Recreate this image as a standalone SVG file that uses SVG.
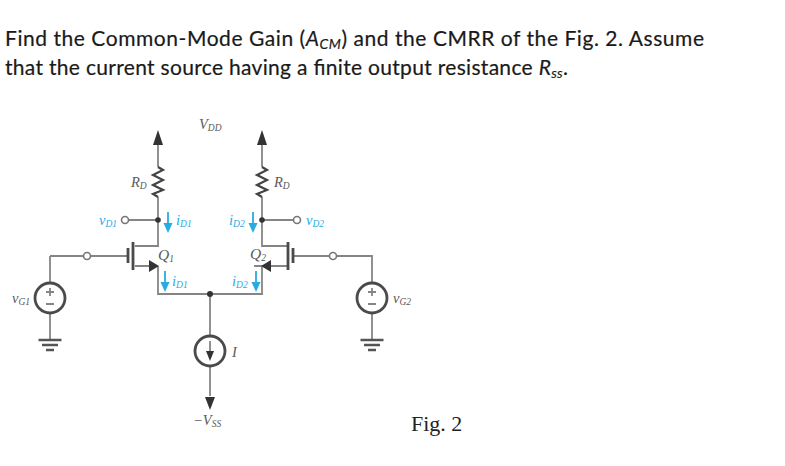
<svg xmlns="http://www.w3.org/2000/svg" width="785" height="466" viewBox="0 0 785 466">
<style>
.t{font-family:"Lato","Open Sans",sans-serif;font-size:21px;fill:#1a1a1a;stroke:#1a1a1a;stroke-width:.2}
.w{fill:none;stroke:#858585;stroke-width:1.8}
.d{fill:none;stroke:#444;stroke-width:2.200}
.s{fill:none;stroke:#4a4a4a;stroke-width:2.800}
.p{fill:#fff;stroke:#777;stroke-width:1.600}
.k{fill:#333}
.c{fill:#29abe2}
.l{font-family:"Liberation Serif",serif;font-style:italic;font-size:14.500px;fill:#5a5a5a}
.b{font-family:"Liberation Serif",serif;font-style:italic;font-size:14.500px;fill:#29abe2}
.q{font-size:15.500px}
.sub{font-size:9.500px}
.g{stroke:#555;fill:none;stroke-width:2.400}
</style>
<defs>
<g id="gnd"><path class="g" d="M-11.500 0H11.500M-8 5H8M-4 10H4"/></g>
<path id="up" class="k" d="M0 0L-5 15H5Z"/>
<path id="cur" class="c" d="M0 0L-4.500 -10H-0.900V-21H0.900V-10H4.500Z"/>
</defs>

<g id="title">
<text class="t" x="5" y="46" textLength="699" lengthAdjust="spacing">Find the Common-Mode Gain (<tspan font-style="italic">A<tspan font-size="14" dy="3">CM</tspan></tspan><tspan dy="-3">) and the CMRR of the Fig. 2. Assume</tspan></text>
<text class="t" x="5" y="75" textLength="563" lengthAdjust="spacing">that the current source having a finite output resistance <tspan font-style="italic">R<tspan font-size="14" dy="3">ss</tspan></tspan><tspan dy="-3">.</tspan></text>
</g>

<g id="connectors">
<path class="w" d="M158 143V167M158 197V246H135M135 266H150M158 266V294H262V266M254 266H289M289 246H262V197M262 167V143"/>
<path class="w" d="M129 220H158M262 220H293M91 256H128M50 256H83M50 256V283M50 313V340"/>
<path class="w" d="M293 256H329M337 256H372V283M372 313V340"/>
<path class="w" d="M210 294V336M210 366V396"/>
</g>

<g id="vdd-left"><use href="#up" x="158" y="130"/></g>
<g id="vdd-right"><use href="#up" x="262" y="130"/></g>
<g id="vdd-label"><text class="l" x="199" y="129">V<tspan class="sub" dy="2">DD</tspan></text></g>

<g id="rd1">
<path class="d" d="M158 167L163 170L153 175L163 180L153 185L163 190L153 194L158 197"/>
<text class="l" x="131" y="187">R<tspan class="sub" dy="2">D</tspan></text>
</g>
<g id="rd2">
<path class="d" d="M262 167L267 170L257 175L267 180L257 185L267 190L257 194L262 197"/>
<text class="l" x="274" y="187">R<tspan class="sub" dy="2">D</tspan></text>
</g>

<g id="vd1">
<circle class="p" cx="125" cy="220" r="3.500"/>
<circle class="k" cx="158" cy="220" r="2.800"/>
<text class="b" x="99" y="225">v<tspan class="sub" dy="2">D1</tspan></text>
</g>
<g id="vd2">
<circle class="p" cx="297" cy="220" r="3.500"/>
<circle class="k" cx="262" cy="220" r="2.800"/>
<text class="b" x="306" y="225">v<tspan class="sub" dy="2">D2</tspan></text>
</g>

<g id="id1-top"><use href="#cur" x="168" y="233"/><text class="b" x="176" y="225">i<tspan class="sub" dy="2">D1</tspan></text></g>
<g id="id2-top"><use href="#cur" x="253" y="233"/><text class="b" x="229" y="225">i<tspan class="sub" dy="2">D2</tspan></text></g>
<g id="id1-bot"><use href="#cur" x="165" y="292"/><text class="b" x="172" y="286">i<tspan class="sub" dy="2">D1</tspan></text></g>
<g id="id2-bot"><use href="#cur" x="256" y="292"/><text class="b" x="232" y="286">i<tspan class="sub" dy="2">D2</tspan></text></g>

<g id="q1">
<path class="s" d="M128 248V263M133 242V270"/>
<path class="k" d="M159 266L149 260V272Z"/>
<text class="l q" x="158" y="260">Q<tspan class="sub" dy="2">1</tspan></text>
</g>
<g id="q2">
<path class="s" d="M293 248V263M288 242V270"/>
<path class="k" d="M261 266L271 260V272Z"/>
<text class="l q" x="250" y="259">Q<tspan class="sub" dy="2">2</tspan></text>
</g>

<g id="vg1-in"><circle class="p" cx="87" cy="256" r="3.500"/></g>
<g id="vg2-in"><circle class="p" cx="333" cy="256" r="3.500"/></g>

<g id="vg1">
<circle cx="50" cy="298" r="15" class="s"/>
<path class="w" d="M46 292H54M50 288V296M46 304H54"/>
<text class="l" x="12" y="303">v<tspan class="sub" dy="2">G1</tspan></text>
<use href="#gnd" x="50" y="340"/>
</g>
<g id="vg2">
<circle cx="372" cy="298" r="15" class="s"/>
<path class="w" d="M368 292H376M372 288V296M368 304H376"/>
<text class="l" x="393" y="303">v<tspan class="sub" dy="2">G2</tspan></text>
<use href="#gnd" x="372" y="340"/>
</g>

<g id="tail"><circle class="k" cx="210" cy="294" r="3"/></g>
<g id="current-source">
<circle cx="210" cy="351" r="15" class="s"/>
<path class="w" d="M210 341V355"/>
<path class="k" d="M210 361L206 351H214Z"/>
<text class="l" x="232" y="357">I</text>
</g>
<g id="vss">
<path class="k" d="M210 410L205 397H215Z"/>
<text class="l" x="193" y="425">−V<tspan class="sub" dy="2">SS</tspan></text>
</g>

<g id="fig-label"><text x="411" y="431" font-family="Liberation Serif,serif" font-size="22" fill="#222">Fig. 2</text></g>
</svg>
